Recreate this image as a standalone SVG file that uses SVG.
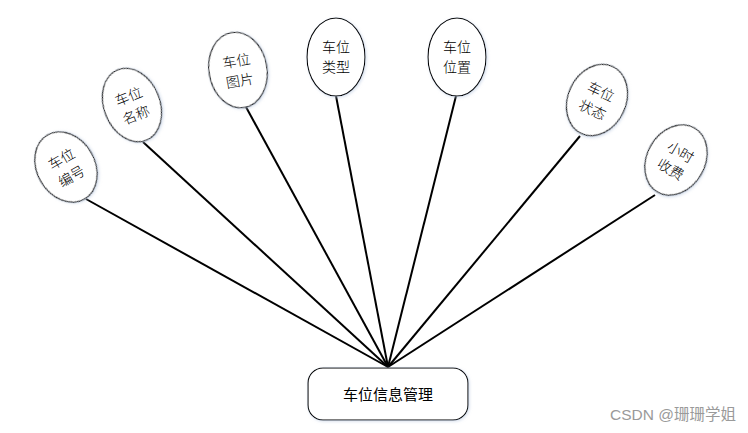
<svg xmlns="http://www.w3.org/2000/svg" width="748" height="433" viewBox="0 0 748 433">
<style>
.e{fill:#fff;stroke:#000;stroke-width:1.1;filter:url(#sh)}
.t{font-family:"Noto Sans CJK SC","Liberation Sans",sans-serif;font-size:14px;font-weight:300;fill:#000;text-anchor:middle}
.c line{stroke:#000;stroke-width:2}
</style>
<defs>
<filter id="sh" x="-20%" y="-20%" width="140%" height="140%">
<feDropShadow dx="1" dy="1" stdDeviation="1.5" flood-color="#b8c8e0" flood-opacity="0.6"/>
</filter>
</defs>
<rect width="748" height="433" fill="#fff"/>
<g class="c">
<line x1="86" y1="199" x2="388" y2="367"/>
<line x1="143" y1="142" x2="388" y2="367"/>
<line x1="246" y1="107" x2="388" y2="367"/>
<line x1="336" y1="96" x2="388" y2="367"/>
<line x1="456" y1="96" x2="388" y2="367"/>
<line x1="580" y1="136" x2="388" y2="367"/>
<line x1="655" y1="195" x2="388" y2="367"/>
</g>
<g id="n1" transform="translate(66,167) rotate(-30)">
<ellipse class="e" rx="29" ry="37"/>
<text class="t" y="-4">车位</text><text class="t" y="16">编号</text>
</g>
<g id="n2" transform="translate(132,105) rotate(-22)">
<ellipse class="e" rx="28" ry="38"/>
<text class="t" y="-4">车位</text><text class="t" y="16">名称</text>
</g>
<g id="n3" transform="translate(238,70) rotate(-10)">
<ellipse class="e" rx="29" ry="38"/>
<text class="t" y="-4">车位</text><text class="t" y="16">图片</text>
</g>
<g id="n4" transform="translate(336,57)">
<ellipse class="e" rx="29" ry="39"/>
<text class="t" y="-5">车位</text><text class="t" y="15">类型</text>
</g>
<g id="n5" transform="translate(457,57)">
<ellipse class="e" rx="29" ry="39"/>
<text class="t" y="-5">车位</text><text class="t" y="15">位置</text>
</g>
<g id="n6" transform="translate(597,100) rotate(25)">
<ellipse class="e" rx="29" ry="37"/>
<text class="t" y="-4">车位</text><text class="t" y="16">状态</text>
</g>
<g id="n7" transform="translate(676,160) rotate(30)">
<ellipse class="e" rx="29" ry="37"/>
<text class="t" y="-4">小时</text><text class="t" y="16">收费</text>
</g>
<g id="main">
<rect x="308" y="368" width="160" height="52" rx="15" ry="15" fill="#fff" stroke="#000" stroke-width="1.1" filter="url(#sh)"/>
<text x="388" y="400" font-family="Noto Sans CJK SC,Liberation Sans,sans-serif" font-size="15" text-anchor="middle" fill="#000">车位信息管理</text>
</g>
<text x="736" y="420" font-family="Liberation Sans,Noto Sans CJK SC,sans-serif" font-size="15.5" text-anchor="end" fill="#9a9a9a">CSDN @珊珊学姐</text>
</svg>
